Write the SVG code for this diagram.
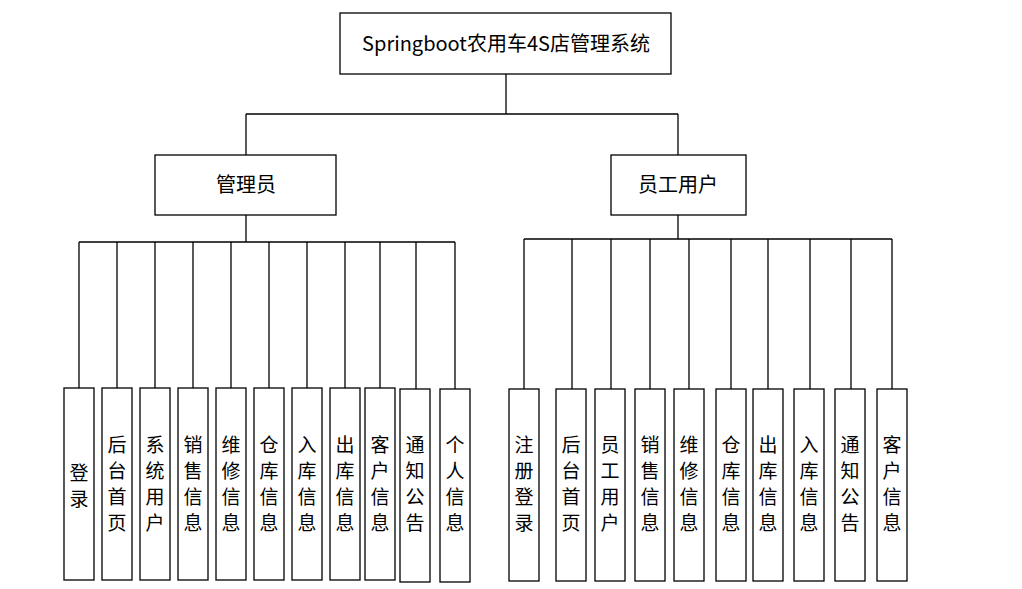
<svg xmlns="http://www.w3.org/2000/svg" width="1022" height="589" viewBox="0 0 1022 589">
<style>
g rect{fill:#fff;stroke:#000;stroke-width:1.3}
.c line{stroke:#000;stroke-width:1.3}
text{font-family:"Noto Sans CJK SC","Liberation Sans",sans-serif;fill:#000;text-anchor:middle}
.t{font-size:20px}
.v{font-size:19px}
</style>
<rect width="1022" height="589" fill="#fff"/>
<g class="c">
<line x1="506" y1="74" x2="506" y2="114"/>
<line x1="246" y1="114" x2="678" y2="114"/>
<line x1="246" y1="114" x2="246" y2="155"/>
<line x1="678" y1="114" x2="678" y2="155"/>
<line x1="246" y1="215" x2="246" y2="242"/>
<line x1="79" y1="242" x2="455" y2="242"/>
<line x1="678" y1="215" x2="678" y2="239"/>
<line x1="524" y1="239" x2="892" y2="239"/>
<line x1="79" y1="242" x2="79" y2="388"/><line x1="117" y1="242" x2="117" y2="388"/><line x1="155" y1="242" x2="155" y2="388"/><line x1="193" y1="242" x2="193" y2="388"/><line x1="231" y1="242" x2="231" y2="388"/><line x1="269" y1="242" x2="269" y2="388"/><line x1="307" y1="242" x2="307" y2="388"/><line x1="345" y1="242" x2="345" y2="388"/><line x1="380" y1="242" x2="380" y2="388"/><line x1="416" y1="242" x2="416" y2="389"/><line x1="455" y1="242" x2="455" y2="389"/>
<line x1="524" y1="239" x2="524" y2="389"/><line x1="572" y1="239" x2="572" y2="389"/><line x1="611" y1="239" x2="611" y2="389"/><line x1="650" y1="239" x2="650" y2="389"/><line x1="689" y1="239" x2="689" y2="389"/><line x1="731" y1="239" x2="731" y2="389"/><line x1="768" y1="239" x2="768" y2="389"/><line x1="810" y1="239" x2="810" y2="389"/><line x1="851" y1="239" x2="851" y2="389"/><line x1="892" y1="239" x2="892" y2="389"/>
</g>
<g id="root"><rect x="340" y="13" width="331" height="61"/><text class="t" x="506" y="51">Springboot农用车4S店管理系统</text></g>
<g id="admin"><rect x="155" y="155" width="181" height="60"/><text class="t" x="246" y="192">管理员</text></g>
<g id="staff"><rect x="611" y="155" width="135" height="60"/><text class="t" x="678" y="192">员工用户</text></g>
<g id="a1"><rect x="64" y="388" width="30" height="192"/><text class="v" x="79" y="480">登</text><text class="v" x="79" y="506">录</text></g>
<g id="a2"><rect x="102" y="388" width="30" height="192"/><text class="v" x="117" y="452">后</text><text class="v" x="117" y="478">台</text><text class="v" x="117" y="504">首</text><text class="v" x="117" y="530">页</text></g>
<g id="a3"><rect x="140" y="388" width="30" height="192"/><text class="v" x="155" y="452">系</text><text class="v" x="155" y="478">统</text><text class="v" x="155" y="504">用</text><text class="v" x="155" y="530">户</text></g>
<g id="a4"><rect x="178" y="388" width="30" height="192"/><text class="v" x="193" y="452">销</text><text class="v" x="193" y="478">售</text><text class="v" x="193" y="504">信</text><text class="v" x="193" y="530">息</text></g>
<g id="a5"><rect x="216" y="388" width="30" height="192"/><text class="v" x="231" y="452">维</text><text class="v" x="231" y="478">修</text><text class="v" x="231" y="504">信</text><text class="v" x="231" y="530">息</text></g>
<g id="a6"><rect x="254" y="388" width="30" height="192"/><text class="v" x="269" y="452">仓</text><text class="v" x="269" y="478">库</text><text class="v" x="269" y="504">信</text><text class="v" x="269" y="530">息</text></g>
<g id="a7"><rect x="292" y="388" width="30" height="192"/><text class="v" x="307" y="452">入</text><text class="v" x="307" y="478">库</text><text class="v" x="307" y="504">信</text><text class="v" x="307" y="530">息</text></g>
<g id="a8"><rect x="330" y="388" width="30" height="192"/><text class="v" x="345" y="452">出</text><text class="v" x="345" y="478">库</text><text class="v" x="345" y="504">信</text><text class="v" x="345" y="530">息</text></g>
<g id="a9"><rect x="365" y="388" width="30" height="192"/><text class="v" x="380" y="452">客</text><text class="v" x="380" y="478">户</text><text class="v" x="380" y="504">信</text><text class="v" x="380" y="530">息</text></g>
<g id="a10"><rect x="400" y="389" width="30" height="193"/><text class="v" x="415" y="452">通</text><text class="v" x="415" y="478">知</text><text class="v" x="415" y="504">公</text><text class="v" x="415" y="530">告</text></g>
<g id="a11"><rect x="440" y="389" width="30" height="193"/><text class="v" x="455" y="452">个</text><text class="v" x="455" y="478">人</text><text class="v" x="455" y="504">信</text><text class="v" x="455" y="530">息</text></g>
<g id="b1"><rect x="509" y="389" width="30" height="192"/><text class="v" x="524" y="452">注</text><text class="v" x="524" y="478">册</text><text class="v" x="524" y="504">登</text><text class="v" x="524" y="530">录</text></g>
<g id="b2"><rect x="556" y="389" width="30" height="192"/><text class="v" x="571" y="452">后</text><text class="v" x="571" y="478">台</text><text class="v" x="571" y="504">首</text><text class="v" x="571" y="530">页</text></g>
<g id="b3"><rect x="595" y="389" width="30" height="192"/><text class="v" x="610" y="452">员</text><text class="v" x="610" y="478">工</text><text class="v" x="610" y="504">用</text><text class="v" x="610" y="530">户</text></g>
<g id="b4"><rect x="635" y="389" width="30" height="192"/><text class="v" x="650" y="452">销</text><text class="v" x="650" y="478">售</text><text class="v" x="650" y="504">信</text><text class="v" x="650" y="530">息</text></g>
<g id="b5"><rect x="674" y="389" width="30" height="192"/><text class="v" x="689" y="452">维</text><text class="v" x="689" y="478">修</text><text class="v" x="689" y="504">信</text><text class="v" x="689" y="530">息</text></g>
<g id="b6"><rect x="716" y="389" width="30" height="192"/><text class="v" x="731" y="452">仓</text><text class="v" x="731" y="478">库</text><text class="v" x="731" y="504">信</text><text class="v" x="731" y="530">息</text></g>
<g id="b7"><rect x="753" y="389" width="30" height="192"/><text class="v" x="768" y="452">出</text><text class="v" x="768" y="478">库</text><text class="v" x="768" y="504">信</text><text class="v" x="768" y="530">息</text></g>
<g id="b8"><rect x="794" y="389" width="30" height="192"/><text class="v" x="809" y="452">入</text><text class="v" x="809" y="478">库</text><text class="v" x="809" y="504">信</text><text class="v" x="809" y="530">息</text></g>
<g id="b9"><rect x="835" y="389" width="30" height="192"/><text class="v" x="850" y="452">通</text><text class="v" x="850" y="478">知</text><text class="v" x="850" y="504">公</text><text class="v" x="850" y="530">告</text></g>
<g id="b10"><rect x="877" y="389" width="30" height="192"/><text class="v" x="892" y="452">客</text><text class="v" x="892" y="478">户</text><text class="v" x="892" y="504">信</text><text class="v" x="892" y="530">息</text></g>
</svg>
